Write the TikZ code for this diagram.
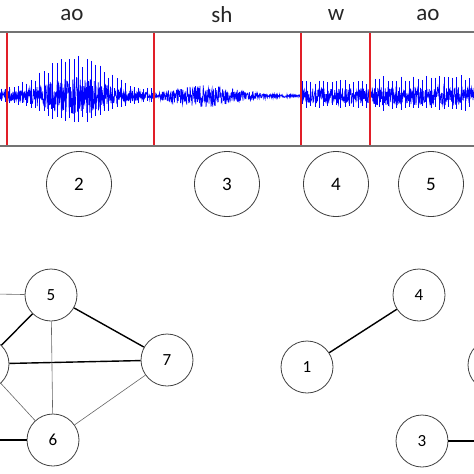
\documentclass[tikz,border=0pt]{standalone}
\usepackage{fontspec}
\setmainfont{Carlito}
\definecolor{segred}{RGB}{225,30,40}
\begin{document}
\begin{tikzpicture}[
					x=1pt,y=-1pt,
					phone/.style={inner sep=0pt,font=\fontsize{23}{27}\selectfont,text=black!85},
					snode/.style={circle,draw=black!75,line width=0.8pt,minimum size=65pt,inner sep=0pt,font=\fontsize{19}{22}\selectfont},
					gnode/.style={circle,draw=black!75,line width=0.8pt,minimum size=52pt,inner sep=0pt,font=\fontsize{17}{20}\selectfont},
					tedge/.style={draw=black!60,line width=0.6pt},
					kedge/.style={draw=black,line width=1.4pt},
					frame/.style={draw=black!55,line width=1.5pt},
					bound/.style={draw=segred,line width=1.4pt},
					wave/.style={draw=blue,line width=0.7pt},
					declare function={
						envA(\t)=7+35*exp(-min(((\t-75)/42)^2,30));
						envS(\t)=1+10*exp(-min(((\t-205)/42)^2,30));
						env(\t)=ifthenelse(\t<154,envA(\t),ifthenelse(\t<301,envS(\t),ifthenelse(\t<370,17,21)));
						spike(\t)=ifthenelse(\t>154,ifthenelse(\t<301,0,1),1)*env(\t);
						noise(\t)=ifthenelse(\t>154,ifthenelse(\t<301,1,0.45),0.45)*env(\t);
					}
					]
					\useasboundingbox (0,0) rectangle (474,474);
					\clip (0,0) rectangle (474,474);
					% phone labels
					\foreach \i/\x/\p in {1/72/ao,2/222/sh,3/336/w,4/428/ao}{
						\node[phone] (ph\i) at (\x,15) {\p};
					}
					% waveform
					\draw[wave] plot[domain=0:474,samples=1400] (\x,{96+noise(\x)*rand});
					\foreach \x in {1,5.3,...,474}{
						\draw[wave] (\x,{96-spike(\x)*(0.85+0.15*rand)}) -- (\x,{96+0.7*spike(\x)*(0.85+0.15*rand)});
					}
					\draw[frame] (0,32) -- (474,32);
					\draw[frame] (0,146) -- (474,146);
					\foreach \x in {7,154,301,370}{
						\draw[bound] (\x,33) -- (\x,145);
					}
					% segment nodes
					\foreach \i/\x in {2/79,3/227,4/336,5/431}{
						\node[snode] (s\i) at (\x,184) {\i};
					}
					% left graph
					\node[gnode] (a5) at (51,295) {5};
					\node[gnode] (a7) at (167,360) {7};
					\node[gnode] (a6) at (53,440) {6};
					\node[gnode] (a2) at (-17,364) {};
					\coordinate (a1) at (-60,293);
					\coordinate (a3) at (-60,440);
					\draw[tedge] (a1) -- (a5);
					\draw[kedge] (a3) -- (a6);
					\draw[kedge] (a2) -- (a5);
					\draw[kedge] (a2) -- (a7);
					\draw[tedge] (a2) -- (a6);
					\draw[kedge] (a5) -- (a7);
					\draw[tedge] (a5) -- (a6);
					\draw[tedge] (a6) -- (a7);
					% right graph
					\node[gnode] (b4) at (419,295) {4};
					\node[gnode] (b1) at (307,367) {1};
					\node[gnode] (b3) at (422,441) {3};
					\node[gnode] (b2) at (494,365) {};
					\coordinate (b5) at (540,441);
					\draw[kedge] (b1) -- (b4);
					\draw[kedge] (b3) -- (b5);
				\end{tikzpicture}
\end{document}
